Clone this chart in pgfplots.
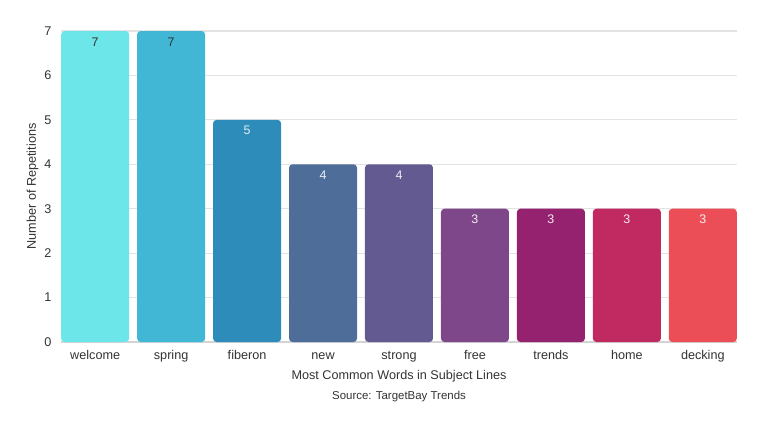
\documentclass[border=0pt]{standalone}
\usepackage{pgfplots}
\pgfplotsset{compat=1.18}
\usepackage{fontspec}
\setmainfont{Liberation Sans}

\definecolor{cWelcome}{HTML}{6DE6E9}
\definecolor{cSpring}{HTML}{42B7D5}
\definecolor{cFiberon}{HTML}{2D8CBA}
\definecolor{cNew}{HTML}{4E6E99}
\definecolor{cStrong}{HTML}{635A91}
\definecolor{cFree}{HTML}{7E4789}
\definecolor{cTrends}{HTML}{95226F}
\definecolor{cHome}{HTML}{C12A60}
\definecolor{cDecking}{HTML}{EB4E57}
\definecolor{gridgray}{HTML}{E3E3E3}
\definecolor{txt}{HTML}{333333}

\begin{document}
\begin{tikzpicture}
\path[use as bounding box] (-61bp,-89bp) rectangle (707bp,342bp);
\begin{axis}[
  at={(0,0)}, anchor=south west,
  scale only axis,
  width=676bp, height=311bp,
  xmin=-0.45, xmax=8.45,
  ymin=0, ymax=7,
  ytick={0,1,...,7},
  xtick={0,...,8},
  xticklabels={welcome,spring,fiberon,new,strong,free,trends,home,decking},
  axis line style={draw=none},
  axis x line*=bottom,
  axis y line*=left,
  major tick length=0pt,
  ymajorgrids,
  grid style={gridgray, line width=1.2bp},
  tick label style={font=\fontsize{12.7}{14}\selectfont, text=txt},
  /pgf/number format/assume math mode=true,
  yticklabel style={xshift=-6bp},
  xticklabel style={anchor=north, text height=9bp, text depth=2.5bp, yshift=-5bp},
  xlabel={Most Common Words in Subject Lines},
  ylabel={Number of Repetitions},
  label style={font=\fontsize{12.7}{14}\selectfont, text=txt},
  xlabel style={yshift=-1bp},
  ylabel style={yshift=-1bp},
  ybar, bar width=68bp, bar shift=0pt,
  every axis plot/.append style={draw=none, rounded corners=3.5bp},
  nodes near coords,
  every node near coord/.append style={anchor=north, yshift=-3bp,
    font=\fontsize{12.5}{14}\selectfont, /pgf/number format/assume math mode=true},
  clip=false,
]
% faint base line
\draw[gridgray!85!gray, line width=1.2bp] (rel axis cs:0,0) -- (rel axis cs:1,0);

\addplot[fill=cWelcome, nodes near coords style={text=txt}] coordinates {(0,7)};
\addplot[fill=cSpring, nodes near coords style={text=txt}] coordinates {(1,7)};
\addplot[fill=cFiberon, nodes near coords style={text=white!85!cFiberon}] coordinates {(2,5)};
\addplot[fill=cNew, nodes near coords style={text=white!90!cNew}] coordinates {(3,4)};
\addplot[fill=cStrong, nodes near coords style={text=white!90!cStrong}] coordinates {(4,4)};
\addplot[fill=cFree, nodes near coords style={text=white!90!cFree}] coordinates {(5,3)};
\addplot[fill=cTrends, nodes near coords style={text=white!90!cTrends}] coordinates {(6,3)};
\addplot[fill=cHome, nodes near coords style={text=white!90!cHome}] coordinates {(7,3)};
\addplot[fill=cDecking, nodes near coords style={text=white!90!cDecking}] coordinates {(8,3)};

\node[font=\fontsize{11.5}{13}\selectfont, text=txt] at ([yshift=-55bp]rel axis cs:0.5,0) {Source: TargetBay Trends};
\end{axis}
\end{tikzpicture}
\end{document}
